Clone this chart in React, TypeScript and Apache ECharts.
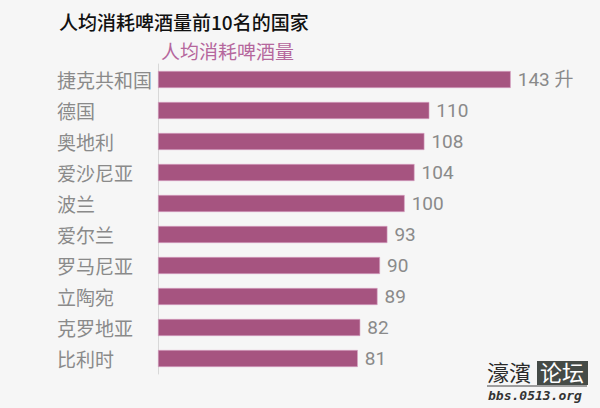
import React, { useEffect, useRef } from "react";
import * as echarts from "echarts";

const countries = ["捷克共和国", "德国", "奥地利", "爱沙尼亚", "波兰", "爱尔兰", "罗马尼亚", "立陶宛", "克罗地亚", "比利时"];
const litres = [143, 110, 108, 104, 100, 93, 90, 89, 82, 81];
const titleText = "人均消耗啤酒量前10名的国家";
const subtitleText = "人均消耗啤酒量";
const unit = "升";

export default function App() {
  const ref = useRef<HTMLDivElement>(null);
  useEffect(() => {
    document.body.style.margin = "0";
    const chart = echarts.init(ref.current!, null, { renderer: "svg" });
    const font = "'Noto Sans CJK SC', 'Noto Sans', sans-serif";
    const numFont = "Roboto, 'Noto Sans CJK SC', sans-serif";
    chart.setOption({
      animation: false,
      backgroundColor: "#f6f6f6",
      textStyle: { fontFamily: font },
      title: [
        {
          text: titleText,
          left: 54,
          top: 7,
          textStyle: { fontSize: 19, fontWeight: 500, color: "#111", fontFamily: font },
        },
        {
          text: subtitleText,
          left: 156,
          top: 36,
          textStyle: { fontSize: 19, fontWeight: "normal", color: "#b5679d", fontFamily: font },
        },
      ],
      grid: { left: 158, right: 72, top: 64, bottom: 34 },
      xAxis: {
        type: "value",
        min: 0,
        max: 150,
        show: false,
      },
      yAxis: {
        type: "category",
        inverse: true,
        data: countries,
        axisLine: { show: true, lineStyle: { color: "#d8d8d8", width: 1 } },
        axisTick: { show: false },
        axisLabel: {
          align: "left",
          margin: 101,
          fontSize: 19,
          color: "#8a8a8a",
          fontFamily: font,
        },
      },
      series: [
        {
          type: "bar",
          data: litres,
          barWidth: 17,
          itemStyle: { color: "#a65480", borderColor: "#d9a5c4", borderWidth: 0.6 },
          label: {
            show: true,
            position: "right",
            distance: 7,
            fontSize: 19,
            color: "#8a8a8a",
            fontFamily: numFont,
            formatter: (p: any) => (p.dataIndex === 0 ? `${p.value} ${unit}` : `${p.value}`),
          },
        },
      ],
      graphic: [
        {
          type: "text",
          left: 487,
          top: 360,
          style: { text: "濠濱", fontSize: 22, fill: "#2a2a2a", fontFamily: font },
        },
        { type: "line", shape: { x1: 487, y1: 386, x2: 587, y2: 386 }, style: { stroke: "#444", lineWidth: 1 } },
        { type: "rect", shape: { x: 537, y: 361, width: 51, height: 24 }, style: { fill: "#454b47" } },
        {
          type: "text",
          left: 540,
          top: 360,
          style: { text: "论坛", fontSize: 22, fill: "#ffffff", fontFamily: font },
        },
        {
          type: "text",
          left: 488,
          top: 389,
          style: {
            text: "bbs.0513.org",
            fontSize: 13,
            fontWeight: "bold",
            fontStyle: "italic",
            fill: "#333",
            fontFamily: "'DejaVu Sans Mono', 'Liberation Mono', monospace",
          },
        },
      ],
    });
    return () => chart.dispose();
  }, []);
  return <div ref={ref} style={{ width: 600, height: 408 }} />;
}
